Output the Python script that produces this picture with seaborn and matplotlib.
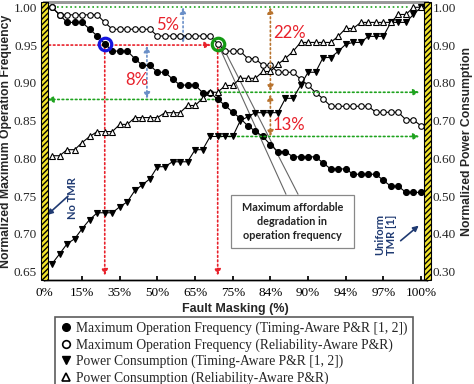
import numpy as np
import pandas as pd
import matplotlib
matplotlib.use('Agg')
import matplotlib.pyplot as plt
import seaborn as sns
from matplotlib.patches import Rectangle
from matplotlib.lines import Line2D

# ---------------- data ----------------
point_index = list(range(1, 51))
tick_index = [0, 5, 10, 15, 20, 25, 30, 35, 40, 45, 50]
tick_labels = ['0%', '15%', '35%', '50%', '65%', '75%', '84%', '90%', '94%', '97%', '100%']

freq_timing = [1.000, 0.990, 0.980, 0.980, 0.980, 0.971, 0.962, 0.952, 0.942, 0.942,
               0.942, 0.932, 0.923, 0.923, 0.914, 0.914, 0.905, 0.897, 0.897, 0.897,
               0.887, 0.887, 0.878, 0.870, 0.861, 0.853, 0.843, 0.836, 0.829, 0.818,
               0.809, 0.809, 0.802, 0.802, 0.802, 0.802, 0.794, 0.786, 0.786, 0.786,
               0.779, 0.779, 0.779, 0.779, 0.771, 0.763, 0.763, 0.755, 0.755, 0.755]
freq_reliab = [1.000, 0.990, 0.990, 0.990, 0.990, 0.990, 0.990, 0.980, 0.971, 0.971,
               0.971, 0.971, 0.971, 0.971, 0.962, 0.962, 0.962, 0.962, 0.962, 0.962,
               0.962, 0.962, 0.952, 0.942, 0.942, 0.942, 0.932, 0.932, 0.923, 0.923,
               0.914, 0.914, 0.914, 0.905, 0.897, 0.887, 0.879, 0.869, 0.869, 0.869,
               0.869, 0.869, 0.869, 0.861, 0.861, 0.861, 0.861, 0.851, 0.851, 0.843]
power_timing = [0.321, 0.347, 0.374, 0.387, 0.414, 0.438, 0.456, 0.456, 0.456, 0.472,
                0.485, 0.515, 0.530, 0.546, 0.578, 0.578, 0.591, 0.591, 0.591, 0.623,
                0.623, 0.658, 0.658, 0.658, 0.658, 0.700, 0.710, 0.721, 0.721, 0.721,
                0.721, 0.759, 0.759, 0.793, 0.828, 0.828, 0.867, 0.867, 0.883, 0.902,
                0.907, 0.907, 0.923, 0.923, 0.923, 0.960, 0.960, 0.960, 0.981, 1.000]
power_reliab = [0.607, 0.607, 0.623, 0.623, 0.642, 0.658, 0.671, 0.671, 0.671, 0.690,
                0.690, 0.708, 0.708, 0.708, 0.708, 0.721, 0.721, 0.721, 0.740, 0.740,
                0.759, 0.775, 0.775, 0.793, 0.793, 0.812, 0.812, 0.812, 0.830, 0.830,
                0.849, 0.865, 0.883, 0.907, 0.907, 0.907, 0.907, 0.907, 0.923, 0.944,
                0.944, 0.960, 0.960, 0.960, 0.960, 0.960, 0.981, 0.981, 1.000, 1.000]

legend_labels = ['Maximum Operation Frequency (Timing-Aware P&R [1, 2])',
                 'Maximum Operation Frequency (Reliability-Aware P&R)',
                 'Power Consumption (Timing-Aware P&R [1, 2])',
                 'Power Consumption (Reliability-Aware P&R)']

df = pd.DataFrame({'idx': point_index, 'ft': freq_timing, 'fr': freq_reliab,
                   'pt': power_timing, 'pr': power_reliab})

# ---------------- style ----------------
sns.set_theme(style='white')
plt.rcParams['font.family'] = ['Liberation Serif', 'DejaVu Serif']
plt.rcParams['hatch.linewidth'] = 1.0

W, H = 474, 384
fig = plt.figure(figsize=(W / 100, H / 100), dpi=100)
fig.patch.set_facecolor('white')
ax = fig.add_axes([44 / W, 1 - 280 / H, (427 - 44) / W, 278 / H])
ax2 = ax.twinx()

ax.set_xlim(-0.07, 50.8)
ax.set_ylim(0.639, 1.007)
ax2.set_ylim(2 * 0.639 - 1, 2 * 1.007 - 1)

# ---------------- series ----------------
line_kw = dict(color='black', linewidth=0.8, markeredgecolor='black', markeredgewidth=0.8)
sns.lineplot(data=df, x='idx', y='ft', ax=ax, marker='o', markersize=4.3, zorder=4, **line_kw)
sns.lineplot(data=df, x='idx', y='fr', ax=ax, marker='o', markersize=4.0,
             markerfacecolor='white', zorder=5, **line_kw)
sns.lineplot(data=df, x='idx', y='pt', ax=ax2, marker='v', markersize=4.6, zorder=4, **line_kw)
sns.lineplot(data=df, x='idx', y='pr', ax=ax2, marker='^', markersize=4.3,
             markerfacecolor='white', zorder=5, **line_kw)

# ---------------- axes ----------------
ax.set_xticks(tick_index)
ax.set_xticklabels(tick_labels, fontsize=9.5)
ax.set_yticks([0.65, 0.70, 0.75, 0.80, 0.85, 0.90, 0.95, 1.00])
ax.set_yticklabels(['%.2f' % v for v in [0.65, 0.70, 0.75, 0.80, 0.85, 0.90, 0.95, 1.00]], fontsize=9.5)
ax2.set_yticks([0.3, 0.4, 0.5, 0.6, 0.7, 0.8, 0.9, 1.0])
ax2.set_yticklabels(['%.2f' % v for v in [0.3, 0.4, 0.5, 0.6, 0.7, 0.8, 0.9, 1.0]], fontsize=9.5)
ax.tick_params(axis='x', direction='in', length=3, pad=5, bottom=True, colors='black')
ax.tick_params(axis='y', length=0, pad=5)
ax2.tick_params(axis='y', length=0, pad=4)
ax.set_xlabel('Fault Masking (%)', fontsize=9, fontweight='bold', family='Liberation Sans', labelpad=3)
ax.set_ylabel('Normalized Maximum Operation Frequency', fontsize=8.8, fontweight='bold',
              family='Liberation Sans', labelpad=1)
ax2.set_ylabel('Normalized Power Consumption', fontsize=8.8, fontweight='bold',
               family='Liberation Sans', labelpad=4)
for a in (ax, ax2):
    for s in a.spines.values():
        s.set_color('black')
        s.set_linewidth(1.0)
    a.spines['top'].set_color('#999999')
    a.spines['top'].set_linewidth(2)

# yellow hatched bars
for x0 in (-3 / 383, 1 - 3 / 383):
    ax2.add_patch(Rectangle((x0, 0), 7 / 383, 1, transform=ax.transAxes, facecolor='#f2e42c',
                            edgecolor='black', hatch='//////', linewidth=0.8, clip_on=False, zorder=10))

RED = '#e8202a'
GREEN = '#1fa31f'
BLUE = '#6a8fc8'
BROWN = '#b8732e'
NAVY = '#1f3a72'

def arrow(axis, p0, p1, color, style='-|>', ls=':', lw=1.2, ms=9, z=3):
    axis.annotate('', xy=p1, xytext=p0,
                  arrowprops=dict(arrowstyle=style, color=color, lw=lw, ls=ls,
                                  mutation_scale=ms, shrinkA=0, shrinkB=0), zorder=z)

# reference lines
ax.plot([1.6, 48.6], [1.0, 1.0], color=GREEN, ls=':', lw=1.2, zorder=2)
arrow(ax, (0, 0.95), (22.1, 0.95), RED)
arrow(ax, (8, freq_timing[7]), (8, 0.645), RED)
arrow(ax, (23, freq_reliab[22]), (23, 0.645), RED)
arrow(ax, (22.5, freq_timing[22]), (0.35, freq_timing[22]), GREEN)
arrow(ax2, (23.3, power_reliab[22]), (49.8, power_reliab[22]), GREEN)
arrow(ax2, (23.3, power_timing[22]), (49.8, power_timing[22]), GREEN)

# double arrows
arrow(ax, (18.4, 0.953), (18.4, 1.0), BLUE, style='<|-|>')
arrow(ax, (13.6, 0.879), (13.6, 0.949), BLUE, style='<|-|>')
arrow(ax2, (30.0, 0.778), (30.0, 1.0), BROWN, style='<|-|>')
arrow(ax2, (30.0, 0.658), (30.0, 0.770), BROWN, style='<|-|>')

lab_kw = dict(color=RED, fontsize=12, family='Lato', ha='center', va='center', zorder=6)
ax.text(16.4, 0.977, '5%', **lab_kw)
ax.text(12.2, 0.904, '8%', **lab_kw)
ax.text(32.5, 0.966, '22%', **lab_kw)
ax.text(32.5, 0.844, '13%', **lab_kw)

# highlight rings
ax.plot([8], [freq_timing[7]], marker='o', markersize=9.0, markerfacecolor='none',
        markeredgecolor='#1515e0', markeredgewidth=2.3, zorder=7)
ax.plot([23], [freq_reliab[22]], marker='o', markersize=9.0, markerfacecolor='none',
        markeredgecolor='#139a13', markeredgewidth=2.3, zorder=7)

# callout
ax.plot([23.2, 32.07], [0.9477, 0.7525], color='#666666', lw=0.8, zorder=3)
ax.plot([23.6, 33.67], [0.949, 0.7525], color='#666666', lw=0.8, zorder=3)
ax.add_patch(Rectangle((24.77, 0.6814), 41.1 - 24.77, 0.7516 - 0.6814, facecolor='white',
                       edgecolor='#888888', linewidth=0.9, zorder=6))
ax.text(32.9, 0.7165, 'Maximum affordable\ndegradation in\noperation frequency', ha='center',
        va='center', fontsize=7.8, fontweight='bold', family='Lato', color='#222222',
        linespacing=1.3, zorder=7)

# TMR notes
ax.text(3.65, 0.748, 'No TMR', rotation=90, ha='center', va='center', fontsize=8,
        fontweight='bold', family='Lato', color=NAVY, zorder=7)
arrow(ax, (3.12, 0.750), (0.35, 0.725), NAVY, ls='-', lw=1.2, ms=8)
ax.text(45.35, 0.699, 'Uniform\nTMR [1]', rotation=90, ha='center', va='center', fontsize=8,
        fontweight='bold', family='Lato', color=NAVY, linespacing=1.1, zorder=7)
arrow(ax, (47.3, 0.691), (49.7, 0.711), NAVY, ls='-', lw=1.2, ms=8)

# legend
handles = [Line2D([], [], ls='none', marker='o', color='black', markersize=5.5),
           Line2D([], [], ls='none', marker='o', color='black', markerfacecolor='white', markersize=5.5, mew=1.2),
           Line2D([], [], ls='none', marker='v', color='black', markersize=6),
           Line2D([], [], ls='none', marker='^', color='black', markerfacecolor='white', markersize=5.5, mew=1.2)]
leg = fig.legend(handles, legend_labels, loc='upper center', bbox_to_anchor=(234 / W, 1 - 317 / H),
                 borderaxespad=0, frameon=True, fancybox=False, edgecolor='#333333', fontsize=9.8,
                 handlelength=0.8, handletextpad=0.4, labelspacing=0.22, borderpad=0.35)
leg.get_frame().set_linewidth(1.2)

fig.savefig('out.png', dpi=100, facecolor='white')
